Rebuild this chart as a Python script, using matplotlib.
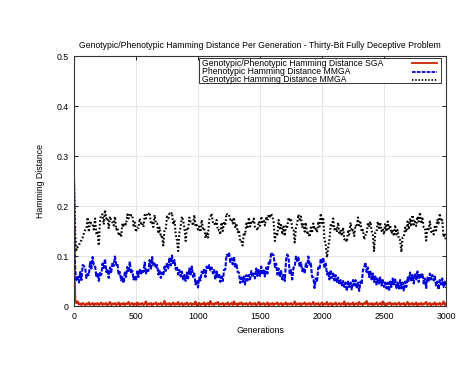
import numpy as np
import matplotlib
matplotlib.use("Agg")
import matplotlib.pyplot as plt
from matplotlib.patches import Rectangle
from matplotlib.lines import Line2D

plt.rcParams['font.family'] = ['Liberation Sans', 'DejaVu Sans']

title = "Genotypic/Phenotypic Hamming Distance Per Generation - Thirty-Bit Fully Deceptive Problem"
xlabel = "Generations"
ylabel = "Hamming Distance"
labels = ["Genotypic/Phenotypic Hamming Distance SGA",
          "Phenotypic Hamming Distance MMGA",
          "Genotypic Hamming Distance MMGA"]
xticks = [0, 500, 1000, 1500, 2000, 2500, 3000]
yticks = [0, 0.1, 0.2, 0.3, 0.4, 0.5]
ytick_labels = ["0", "0.1", "0.2", "0.3", "0.4", "0.5"]

generations = np.concatenate([[0, 5], np.arange(10, 3001, 10)])

sga = [0.25, 0.06,
    0.012, 0.006, 0.009, 0.003, 0.005, 0.002, 0.006, 0.004, 0.001, 0.005, 0.003, 0.007, 0.002, 0.004, 0.006, 0.001, 0.005, 0.003, 0.006, 0.002,
    0.004, 0.007, 0.002, 0.005, 0.003, 0.006, 0.001, 0.004, 0.008, 0.002, 0.005, 0.003, 0.006, 0.002, 0.004, 0.007, 0.001, 0.005, 0.003, 0.006,
    0.002, 0.005, 0.004, 0.008, 0.002, 0.004, 0.006, 0.001, 0.005, 0.003, 0.007, 0.002, 0.005, 0.003, 0.006, 0.002, 0.004, 0.009, 0.002, 0.005,
    0.003, 0.006, 0.001, 0.005, 0.004, 0.007, 0.002, 0.005, 0.003, 0.006, 0.002, 0.004, 0.010, 0.002, 0.005, 0.003, 0.006, 0.001, 0.004, 0.007,
    0.002, 0.005, 0.003, 0.008, 0.002, 0.004, 0.006, 0.001, 0.005, 0.003, 0.007, 0.002, 0.004, 0.006, 0.002, 0.005, 0.003, 0.009, 0.001, 0.004,
    0.006, 0.002, 0.005, 0.003, 0.007, 0.001, 0.004, 0.006, 0.002, 0.010, 0.003, 0.005, 0.002, 0.006, 0.004, 0.008, 0.002, 0.005, 0.003, 0.006,
    0.001, 0.005, 0.003, 0.007, 0.002, 0.004, 0.006, 0.002, 0.009, 0.003, 0.005, 0.001, 0.006, 0.004, 0.007, 0.002, 0.005, 0.003, 0.006, 0.002,
    0.004, 0.007, 0.002, 0.005, 0.003, 0.006, 0.001, 0.004, 0.008, 0.002, 0.005, 0.003, 0.006, 0.002, 0.004, 0.007, 0.001, 0.005, 0.003, 0.006,
    0.002, 0.005, 0.004, 0.007, 0.002, 0.004, 0.006, 0.001, 0.005, 0.003, 0.007, 0.002, 0.005, 0.003, 0.006, 0.002, 0.004, 0.009, 0.002, 0.005,
    0.003, 0.006, 0.001, 0.005, 0.004, 0.007, 0.002, 0.005, 0.003, 0.006, 0.002, 0.004, 0.008, 0.002, 0.005, 0.003, 0.006, 0.001, 0.004, 0.007,
    0.002, 0.005, 0.003, 0.008, 0.002, 0.004, 0.006, 0.001, 0.005, 0.003, 0.007, 0.002, 0.004, 0.006, 0.002, 0.005, 0.003, 0.009, 0.001, 0.004,
    0.006, 0.002, 0.005, 0.003, 0.007, 0.001, 0.004, 0.006, 0.002, 0.008, 0.003, 0.005, 0.002, 0.006, 0.004, 0.010, 0.002, 0.005, 0.003, 0.006,
    0.001, 0.005, 0.003, 0.007, 0.002, 0.004, 0.006, 0.002, 0.009, 0.003, 0.005, 0.001, 0.006, 0.004, 0.007, 0.002, 0.005, 0.003, 0.006, 0.002,
    0.004, 0.007, 0.002, 0.005, 0.003, 0.006, 0.001, 0.004, 0.008, 0.002, 0.005, 0.003, 0.006, 0.002, 0.004, 0.007, 0.001, 0.005, 0.003, 0.006,
    0.002, 0.005, 0.004, 0.008, 0.002, 0.004, 0.006, 0.001, 0.005, 0.003, 0.007, 0.002, 0.005, 0.003, 0.006, 0.002, 0.004, 0.009, 0.002, 0.005]

pheno_mmga = [0.25, 0.12,
    0.070, 0.052, 0.058, 0.047, 0.068, 0.052, 0.082, 0.080, 0.076, 0.056, 0.064, 0.062, 0.088, 0.075, 0.098, 0.082, 0.081, 0.058, 0.066, 0.050,
    0.068, 0.062, 0.085, 0.076, 0.094, 0.068, 0.074, 0.056, 0.077, 0.068, 0.087, 0.080, 0.099, 0.083, 0.085, 0.062, 0.068, 0.051, 0.058, 0.046,
    0.067, 0.058, 0.078, 0.070, 0.089, 0.065, 0.071, 0.053, 0.061, 0.050, 0.069, 0.058, 0.074, 0.063, 0.073, 0.068, 0.087, 0.065, 0.074, 0.070,
    0.092, 0.073, 0.098, 0.081, 0.085, 0.076, 0.082, 0.063, 0.071, 0.056, 0.067, 0.061, 0.079, 0.070, 0.087, 0.075, 0.097, 0.081, 0.101, 0.083,
    0.092, 0.073, 0.079, 0.063, 0.072, 0.059, 0.069, 0.053, 0.062, 0.050, 0.067, 0.055, 0.075, 0.063, 0.079, 0.058, 0.065, 0.043, 0.052, 0.037,
    0.057, 0.051, 0.069, 0.063, 0.075, 0.058, 0.079, 0.073, 0.082, 0.071, 0.077, 0.065, 0.072, 0.053, 0.069, 0.058, 0.065, 0.048, 0.059, 0.050,
    0.072, 0.073, 0.102, 0.100, 0.107, 0.088, 0.095, 0.083, 0.099, 0.076, 0.085, 0.068, 0.067, 0.046, 0.057, 0.048, 0.059, 0.043, 0.062, 0.051,
    0.062, 0.053, 0.070, 0.058, 0.065, 0.055, 0.075, 0.060, 0.072, 0.060, 0.079, 0.063, 0.071, 0.059, 0.077, 0.065, 0.087, 0.083, 0.107, 0.103,
    0.102, 0.078, 0.085, 0.063, 0.075, 0.058, 0.070, 0.053, 0.062, 0.050, 0.092, 0.103, 0.097, 0.063, 0.072, 0.053, 0.077, 0.078, 0.099, 0.090,
    0.097, 0.078, 0.087, 0.070, 0.077, 0.065, 0.085, 0.078, 0.099, 0.083, 0.085, 0.058, 0.057, 0.036, 0.055, 0.048, 0.077, 0.073, 0.095, 0.085,
    0.097, 0.078, 0.085, 0.063, 0.069, 0.053, 0.072, 0.056, 0.065, 0.051, 0.062, 0.048, 0.057, 0.043, 0.052, 0.041, 0.050, 0.038, 0.047, 0.030,
    0.049, 0.038, 0.047, 0.033, 0.052, 0.041, 0.052, 0.035, 0.047, 0.030, 0.049, 0.043, 0.072, 0.076, 0.087, 0.068, 0.077, 0.058, 0.069, 0.053,
    0.065, 0.048, 0.059, 0.043, 0.055, 0.045, 0.057, 0.041, 0.052, 0.038, 0.047, 0.035, 0.047, 0.030, 0.049, 0.038, 0.055, 0.043, 0.053, 0.036,
    0.047, 0.033, 0.052, 0.035, 0.047, 0.031, 0.049, 0.038, 0.057, 0.050, 0.067, 0.051, 0.062, 0.045, 0.065, 0.053, 0.069, 0.048, 0.065, 0.055,
    0.065, 0.045, 0.055, 0.036, 0.057, 0.048, 0.065, 0.053, 0.062, 0.051, 0.059, 0.041, 0.049, 0.033, 0.052, 0.043, 0.055, 0.038, 0.049, 0.036]

geno_mmga = [0.25, 0.19,
    0.140, 0.112, 0.118, 0.121, 0.129, 0.131, 0.137, 0.145, 0.152, 0.155, 0.177, 0.148, 0.170, 0.165, 0.165, 0.153, 0.175, 0.143, 0.147, 0.121,
    0.172, 0.183, 0.183, 0.163, 0.192, 0.175, 0.177, 0.156, 0.179, 0.171, 0.167, 0.161, 0.179, 0.153, 0.157, 0.141, 0.147, 0.138, 0.165, 0.158,
    0.167, 0.163, 0.183, 0.175, 0.185, 0.181, 0.182, 0.161, 0.167, 0.148, 0.157, 0.156, 0.175, 0.165, 0.167, 0.158, 0.182, 0.175, 0.185, 0.183,
    0.187, 0.165, 0.167, 0.158, 0.182, 0.165, 0.165, 0.145, 0.157, 0.138, 0.142, 0.121, 0.152, 0.153, 0.179, 0.175, 0.185, 0.183, 0.187, 0.163,
    0.172, 0.143, 0.132, 0.110, 0.147, 0.158, 0.179, 0.171, 0.157, 0.130, 0.155, 0.153, 0.177, 0.169, 0.169, 0.161, 0.182, 0.159, 0.162, 0.153,
    0.159, 0.148, 0.172, 0.155, 0.157, 0.136, 0.147, 0.137, 0.172, 0.178, 0.185, 0.166, 0.167, 0.161, 0.172, 0.151, 0.152, 0.143, 0.167, 0.150,
    0.169, 0.161, 0.185, 0.181, 0.182, 0.173, 0.175, 0.165, 0.177, 0.156, 0.165, 0.148, 0.152, 0.128, 0.129, 0.121, 0.147, 0.143, 0.165, 0.155,
    0.177, 0.159, 0.167, 0.165, 0.175, 0.158, 0.157, 0.151, 0.169, 0.160, 0.179, 0.168, 0.172, 0.161, 0.179, 0.171, 0.183, 0.176, 0.185, 0.179,
    0.167, 0.130, 0.147, 0.143, 0.172, 0.155, 0.162, 0.143, 0.159, 0.140, 0.162, 0.158, 0.177, 0.169, 0.175, 0.153, 0.152, 0.127, 0.157, 0.165,
    0.183, 0.173, 0.179, 0.158, 0.165, 0.149, 0.167, 0.143, 0.147, 0.138, 0.157, 0.146, 0.165, 0.153, 0.157, 0.147, 0.169, 0.159, 0.185, 0.166,
    0.177, 0.133, 0.122, 0.097, 0.117, 0.133, 0.162, 0.158, 0.175, 0.153, 0.157, 0.148, 0.167, 0.143, 0.152, 0.140, 0.157, 0.133, 0.135, 0.128,
    0.149, 0.143, 0.167, 0.149, 0.152, 0.140, 0.162, 0.158, 0.177, 0.161, 0.167, 0.148, 0.152, 0.133, 0.142, 0.143, 0.167, 0.158, 0.169, 0.151,
    0.142, 0.110, 0.147, 0.148, 0.169, 0.156, 0.167, 0.150, 0.155, 0.143, 0.165, 0.149, 0.169, 0.153, 0.162, 0.145, 0.152, 0.140, 0.162, 0.143,
    0.152, 0.133, 0.132, 0.108, 0.137, 0.138, 0.157, 0.148, 0.169, 0.153, 0.175, 0.159, 0.182, 0.163, 0.169, 0.160, 0.179, 0.169, 0.187, 0.165,
    0.175, 0.158, 0.157, 0.131, 0.157, 0.153, 0.169, 0.148, 0.152, 0.143, 0.162, 0.151, 0.172, 0.165, 0.185, 0.169, 0.172, 0.138, 0.145, 0.130]

assert len(sga) == len(pheno_mmga) == len(geno_mmga) == len(generations)

colors = ["#cc2200", "#0000dd", "#000000"]
styles = [dict(linestyle="-"), dict(linestyle=(0, (2.0, 0.7))), dict(linestyle=(0, (0.8, 1.0)))]

fig = plt.figure(figsize=(4.74, 3.65), dpi=100)
ax = fig.add_axes([74/474, 1-306/365, 372/474, 250/365])

for series, c, st in zip([sga, pheno_mmga, geno_mmga], colors, styles):
    ax.plot(generations, series, color=c, linewidth=1.5, **st)

ax.set_xlim(0, 3000)
ax.set_ylim(0, 0.5)
ax.set_xticks(xticks)
ax.set_yticks(yticks)
ax.set_yticklabels(ytick_labels)
ax.grid(True, color="#e2e2e2", linewidth=0.6)
ax.set_axisbelow(True)
ax.tick_params(direction="in", top=True, right=True, labelsize=6.3, length=3, width=0.6, pad=4)
for s in ax.spines.values():
    s.set_linewidth(0.8)
    s.set_color("#333333")
ax.set_title(title, fontsize=6.2, pad=6)
ax.set_xlabel(xlabel, fontsize=6.3, labelpad=4)
ax.set_ylabel(ylabel, fontsize=6.3, labelpad=8)

# legend box (gnuplot style: text left, sample right)
ax.add_patch(Rectangle((0.336, 0.892), 0.651, 0.100, transform=ax.transAxes,
                       fill=True, facecolor="white", edgecolor="#333333", linewidth=0.7, zorder=5))
ys = [0.971, 0.937, 0.905]
for lab, c, st, yy in zip(labels, colors, styles, ys):
    ax.text(0.344, yy, lab, transform=ax.transAxes, fontsize=6.2, va="center", ha="left", zorder=6)
    ax.add_line(Line2D([0.909, 0.976], [yy, yy], transform=ax.transAxes, color=c,
                       linewidth=1.3, zorder=6, **st))

fig.savefig("out.png", dpi=100)
